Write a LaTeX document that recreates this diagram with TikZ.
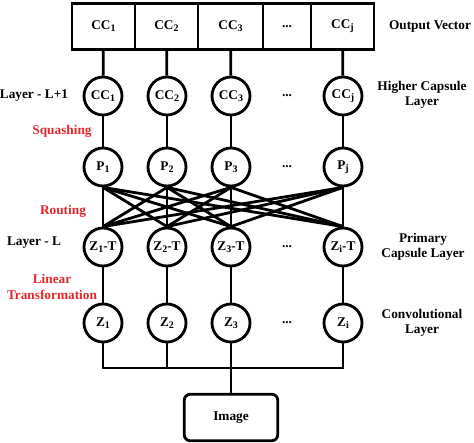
\documentclass[tikz,border=0pt]{standalone}
\usepackage{fontspec}
\setmainfont{Liberation Serif}
\usepackage{tikz}
\usetikzlibrary{positioning}
\definecolor{Ink}{HTML}{000000}
\definecolor{Red}{HTML}{E3262B}
\newcommand{\capidx}[1]{{\fontsize{10}{10}\selectfont\raisebox{-0.4ex}{#1}}}
\tikzset{
  capsule/.style={draw=Ink,circle,line width=2.8pt,minimum size=38pt,inner sep=0pt,
              font=\bfseries\fontsize{13.3}{15}\selectfont},
  cell/.style={draw=Ink,rectangle,line width=2.8pt,minimum height=46.2pt,inner sep=0pt,
              font=\bfseries\fontsize{13.3}{15}\selectfont},
  imagebox/.style={draw=Ink,rounded corners=6pt,line width=2.8pt,minimum width=93.5pt,
              minimum height=46.5pt,font=\bfseries\fontsize{13.3}{15}\selectfont},
  dots/.style={font=\bfseries\fontsize{13.3}{15}\selectfont},
  link/.style={line width=2.8pt,draw=Ink},
  tag/.style={font=\bfseries\fontsize{13.3}{15.5}\selectfont,align=center},
  redtag/.style={tag,text=Red}
}

\begin{document}
\begin{tikzpicture}[x=1pt,y=-1pt]
  \useasboundingbox (0,0) rectangle (474,443);
  % output vector
  \node[cell,minimum width=63pt] (out1) at (103.5,26.5) {CC\capidx{1}};
  \node[cell,minimum width=63pt] (out2) at (166.5,26.5) {CC\capidx{2}};
  \node[cell,minimum width=65pt] (out3) at (230.5,26.5) {CC\capidx{3}};
  \node[cell,minimum width=48pt] (out4) at (287,26.5) {...};
  \node[cell,minimum width=63pt] (out5) at (342.5,26.5) {CC\capidx{j}};
  % capsule rows
  \foreach \x/\k/\j/\i in {103/1/1/1,167/2/2/2,231/3/3/3,343/4/j/i}{
    \node[capsule] (cc\k) at (\x,96) {CC\capidx{\j}};
    \node[capsule] (p\k) at (\x,167) {P\capidx{\j}};
    \node[capsule] (zt\k) at (\x,247) {Z\capidx{\i}-T};
    \node[capsule] (z\k) at (\x,323) {Z\capidx{\i}};
  }
  \node[dots] (ccdots) at (287,96) {...};
  \node[dots] (pdots) at (287,167) {...};
  \node[dots] (ztdots) at (287,247) {...};
  \node[dots] (zdots) at (287,323) {...};
  \node[imagebox] (img) at (231,417.5) {Image};
  \coordinate (bus) at (231,368);
  % connections
  \draw[link] (out1) -- (cc1);
  \draw[link] (out2) -- (cc2);
  \draw[link] (out3) -- (cc3);
  \draw[link] (out5) -- (cc4);
  \foreach \k in {1,2,3,4}{
    \draw[link] (cc\k) -- (p\k);
    \draw[link] (zt\k) -- (z\k);
    \foreach \m in {1,2,3,4}
      \draw[link] (p\k.south) -- (zt\m.north);
  }
  \draw[link] (z1.south) |- (bus) -| (z4.south);
  \draw[link] (z2.south) -- (z2.south |- bus);
  \draw[link] (z3.south) -- (img.north);
  % labels
  \node[tag] (outlbl) at (430,27) {Output Vector};
  \node[tag] (hilbl) at (422,95) {Higher Capsule\\Layer};
  \node[tag] (prilbl) at (423,247) {Primary\\Capsule Layer};
  \node[tag] (convlbl) at (422,323) {Convolutional\\Layer};
  \node[tag] (upper) at (34,96) {Layer - L+1};
  \node[tag] (lower) at (34,243) {Layer - L};
  \node[redtag] (squash) at (62,131) {Squashing};
  \node[redtag] (route) at (63,211) {Routing};
  \node[redtag] (lintr) at (52,287) {Linear\\Transformation};
\end{tikzpicture}
\end{document}
